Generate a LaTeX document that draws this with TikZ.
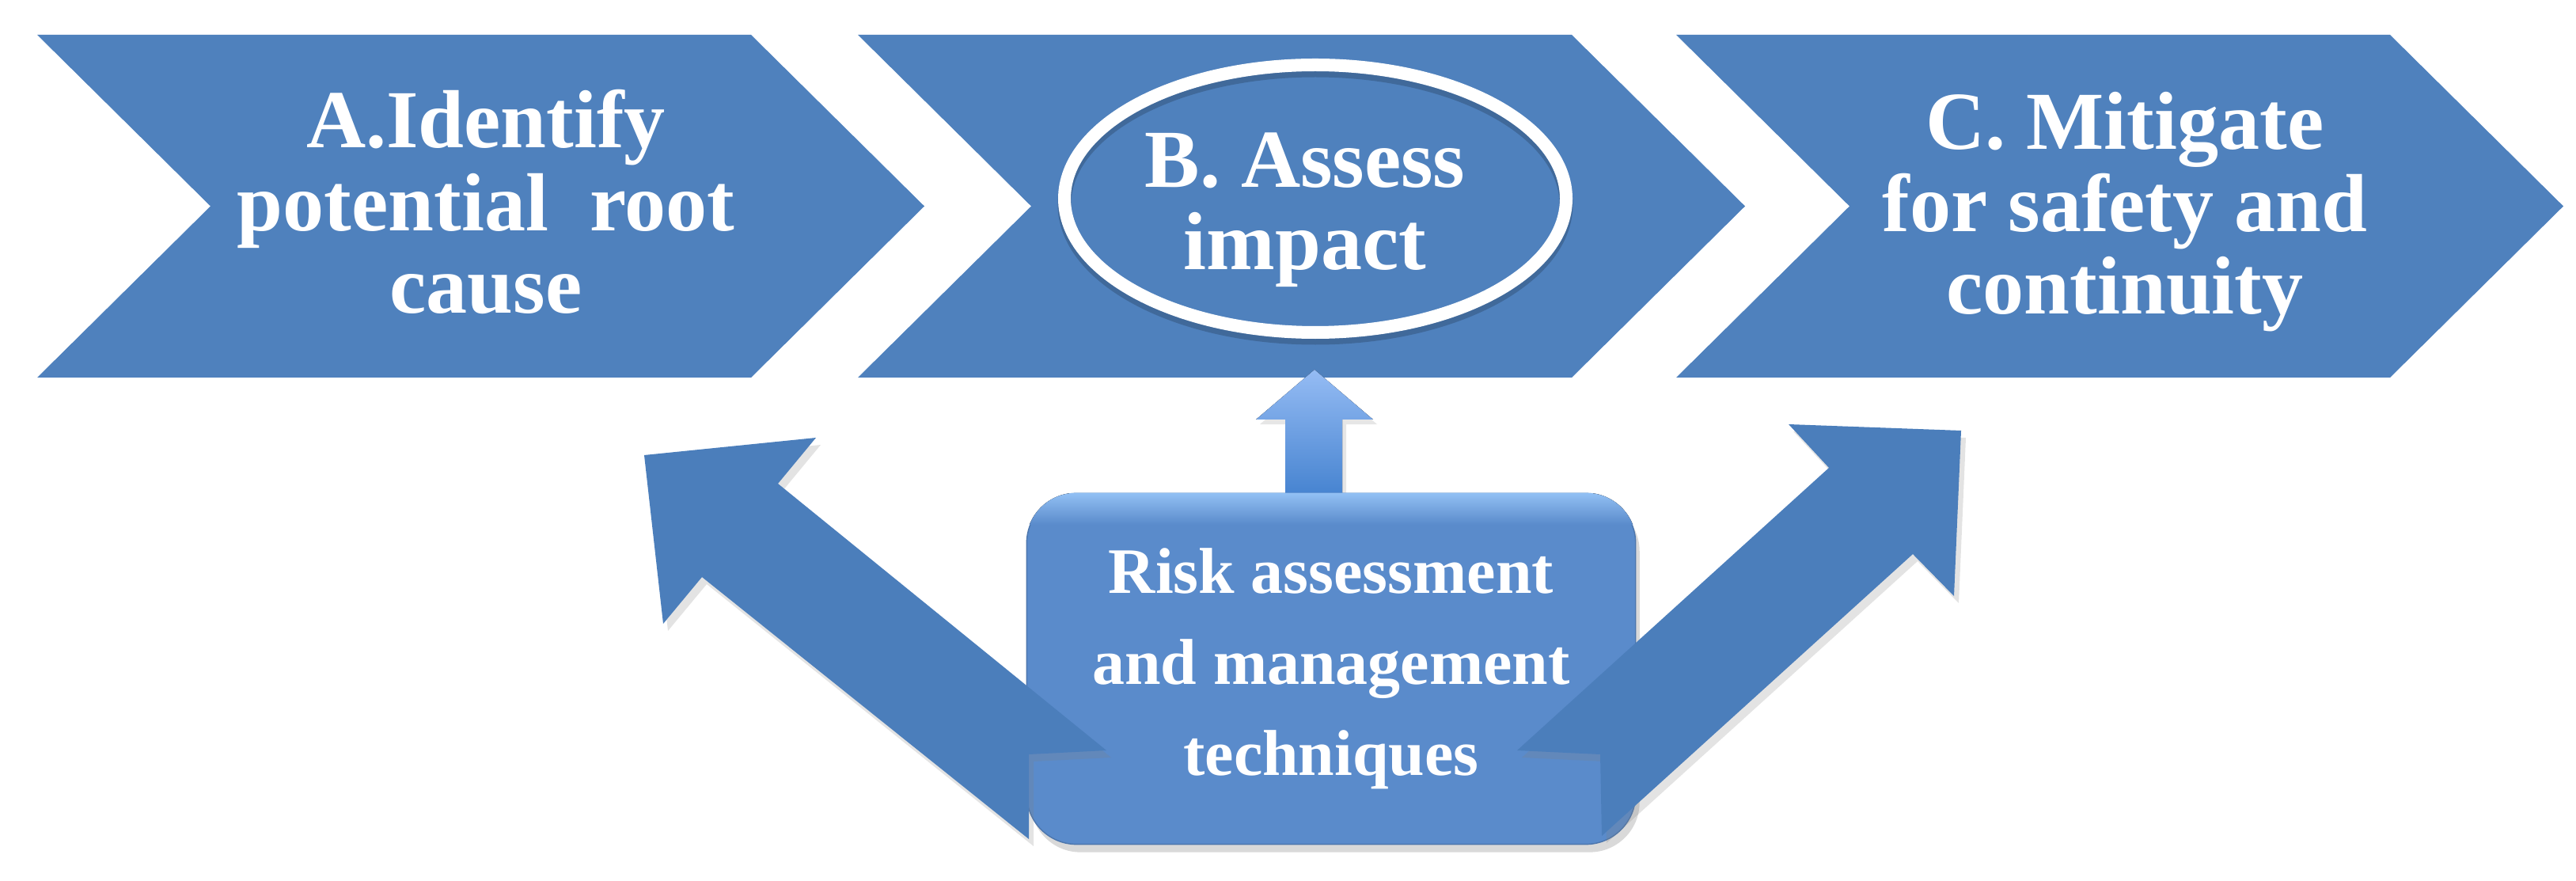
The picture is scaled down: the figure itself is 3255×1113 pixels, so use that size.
\documentclass[tikz,border=0pt]{standalone}
\usepackage{fontspec}
\setmainfont{Liberation Serif}
\usetikzlibrary{shadows}
\definecolor{chevblue}{HTML}{4F81BD}
\definecolor{arrowblue}{HTML}{4B7EBB}
\definecolor{boxblue}{HTML}{5A8BCB}
\definecolor{boxlight}{HTML}{92C0F4}
\definecolor{uptop}{HTML}{95BCF4}
\definecolor{upbot}{HTML}{4683D0}

\begin{document}
\begin{tikzpicture}[x=0.01cm,y=-0.01cm,
    chevron/.style={fill=chevblue},
    bigarrow/.style={fill=arrowblue,drop shadow={opacity=0.22,shadow xshift=0.6mm,shadow yshift=-0.9mm}},
    steptext/.style={text=white,font=\fontsize{29.6}{29.6}\selectfont\bfseries,align=center},
    riskbox/.style={fill=boxblue,draw=boxblue!85!black,rounded corners=0.63cm,
      minimum width=7.69cm,minimum height=4.43cm,text=white,align=center,
      font=\fontsize{23.3}{32.7}\selectfont\bfseries,
      drop shadow={opacity=0.3,shadow xshift=0.5mm,shadow yshift=-1mm}}]
  \useasboundingbox (0,0) rectangle (3255,1113);

  \foreach \x in {47,1084,2118}
    \fill[chevron] (\x,44) -- ++(902,0) -- ++(219,216.5) -- ++(-219,216.5)
      -- ++(-902,0) -- ++(219,-216.5) -- cycle;

  \draw[black,opacity=0.18,line width=0.17cm] (1662,258) ellipse [x radius=317,y radius=169];
  \draw[white,line width=0.16cm] (1662,251) ellipse [x radius=317,y radius=169];

  \node[steptext] (identify) at (614,255) {A.Identify\\potential\ \ root\\cause};
  \node[steptext] (assess) at (1649,265) {B. Assess\\impact};
  \node[steptext] (mitigate) at (2685,268) {C. Mitigate\\for safety and\\continuity};

  \fill[top color=uptop,bottom color=upbot,drop shadow={opacity=0.2,shadow xshift=0.5mm,shadow yshift=-0.6mm}]
    (1624,626) -- (1624,530) -- (1587,530) -- (1661,467) -- (1735,530) -- (1696,530) -- (1696,626) -- cycle;

  \node[riskbox] (risk) at (1682,845) {Risk assessment\\and management\\techniques};
  \begin{scope}
    \clip[rounded corners=0.63cm] (risk.south west) rectangle (risk.north east);
    \fill[top color=boxlight,bottom color=boxblue] (risk.north west) rectangle ++(769,40);
  \end{scope}

  \fill[bigarrow] (814,575) -- (1031,553) -- (983,611) -- (1398,948) -- (1300,953)
    -- (1300,1060) -- (887,729) -- (838,788) -- cycle;
  \fill[bigarrow] (2478,544) -- (2469,753) -- (2417,700) -- (2024,1056) -- (2022,953)
    -- (1917,948) -- (2311,591) -- (2260,536) -- cycle;
\end{tikzpicture}
\end{document}
